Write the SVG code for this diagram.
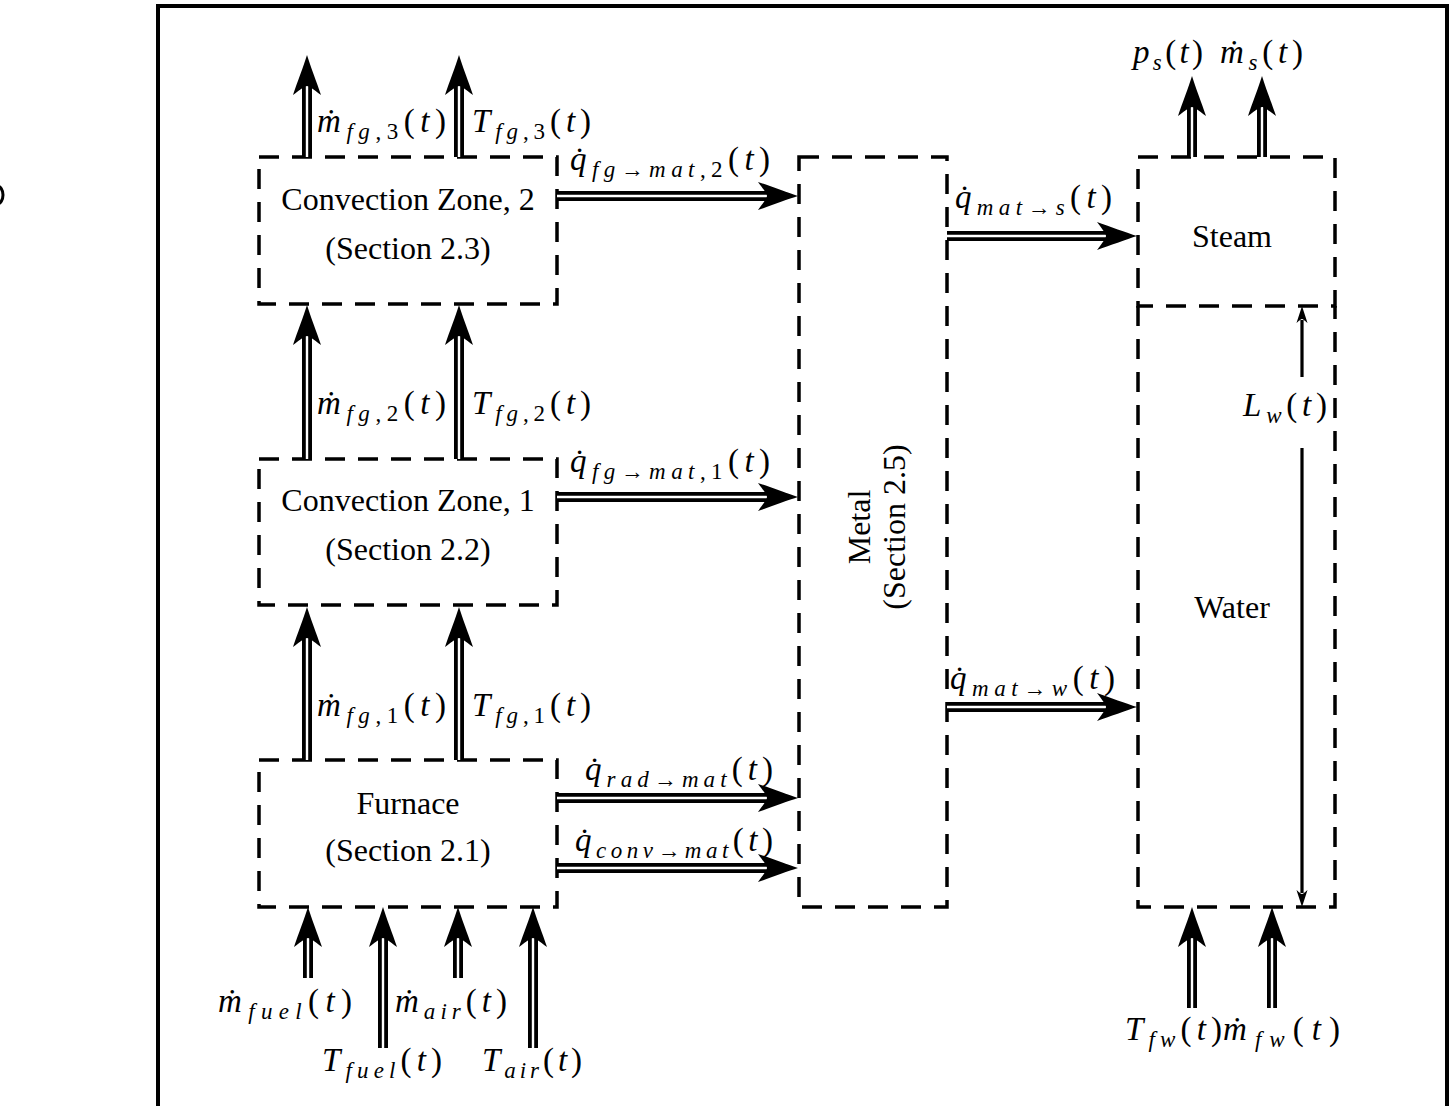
<svg xmlns="http://www.w3.org/2000/svg" xmlns:xlink="http://www.w3.org/1999/xlink" width="1451" height="1106" viewBox="0 0 1451 1106">
<style>
.box{fill:none;stroke:#000;stroke-width:3.5;stroke-dasharray:20 13}
.sh{stroke:#000;stroke-width:10;fill:none}
.sw{stroke:#fff;stroke-width:2.4;fill:none}
.thin{stroke:#000;stroke-width:3.2;fill:none}
.lbl{font-family:"Liberation Serif","Times New Roman",serif;font-size:32px;fill:#000}
.m{font-family:"Liberation Serif","Times New Roman",serif;font-size:33px;font-style:italic;fill:#000}
.s{font-size:23px}
.u{font-style:normal}
</style>
<defs>
<path id="ah" d="M0,0 C-10,-3 -28,-10 -40,-14 C-34,-6 -31,-2 -31,0 C-31,2 -34,6 -40,14 C-28,10 -10,3 0,0 Z" fill="#000"/>
<path id="th" d="M0,0 C-5,-1.5 -12,-4 -17,-5.5 C-14,-2 -13,-1 -13,0 C-13,1 -14,2 -17,5.5 C-12,4 -5,1.5 0,0 Z" fill="#000"/>
</defs>
<rect width="1451" height="1106" fill="#fff"/>
<path d="M158,1110 V6 H1447 V1110" fill="none" stroke="#000" stroke-width="4"/>
<ellipse cx="-3" cy="195" rx="6" ry="9" fill="none" stroke="#000" stroke-width="3"/>

<g id="cz2"><rect class="box" x="259" y="157" width="298" height="147"/>
<text class="lbl" x="408" y="210" text-anchor="middle">Convection Zone, 2</text>
<text class="lbl" x="408" y="259" text-anchor="middle">(Section 2.3)</text></g>
<g id="cz1"><rect class="box" x="259" y="459" width="298" height="146"/>
<text class="lbl" x="408" y="511" text-anchor="middle">Convection Zone, 1</text>
<text class="lbl" x="408" y="560" text-anchor="middle">(Section 2.2)</text></g>
<g id="furnace"><rect class="box" x="259" y="760" width="298" height="147"/>
<text class="lbl" x="408" y="814" text-anchor="middle">Furnace</text>
<text class="lbl" x="408" y="861" text-anchor="middle">(Section 2.1)</text></g>
<g id="metal"><rect class="box" x="799" y="157" width="148" height="750"/>
<text class="lbl" transform="translate(870,527) rotate(-90)" text-anchor="middle">Metal</text>
<text class="lbl" transform="translate(905,527) rotate(-90)" text-anchor="middle">(Section 2.5)</text></g>
<g id="steam"><rect class="box" x="1138" y="157" width="197" height="149"/>
<text class="lbl" x="1232" y="247" text-anchor="middle">Steam</text></g>
<g id="water"><path class="box" d="M1138,306 V907 H1335 V306"/>
<text class="lbl" x="1232" y="618" text-anchor="middle">Water</text></g>

<g id="connectors">
<g>
<path class="sh" d="M307,157 V85 M459,157 V85 M307,459 V335 M459,459 V335 M307,760 V637 M459,760 V637 M1192,157 V106 M1262,157 V106 M308,978 V937 M383,1048 V937 M458,978 V937 M533,1048 V937 M1192,1008 V937 M1272,1008 V937"/>
<path class="sw" d="M307,157 V85 M459,157 V85 M307,459 V335 M459,459 V335 M307,760 V637 M459,760 V637 M1192,157 V106 M1262,157 V106 M308,978 V937 M383,1048 V937 M458,978 V937 M533,1048 V937 M1192,1008 V937 M1272,1008 V937"/>
<use xlink:href="#ah" transform="translate(307,55) rotate(-90)"/>
<use xlink:href="#ah" transform="translate(459,55) rotate(-90)"/>
<use xlink:href="#ah" transform="translate(307,305) rotate(-90)"/>
<use xlink:href="#ah" transform="translate(459,305) rotate(-90)"/>
<use xlink:href="#ah" transform="translate(307,607) rotate(-90)"/>
<use xlink:href="#ah" transform="translate(459,607) rotate(-90)"/>
<use xlink:href="#ah" transform="translate(1192,76) rotate(-90)"/>
<use xlink:href="#ah" transform="translate(1262,76) rotate(-90)"/>
<use xlink:href="#ah" transform="translate(308,907) rotate(-90)"/>
<use xlink:href="#ah" transform="translate(383,907) rotate(-90)"/>
<use xlink:href="#ah" transform="translate(458,907) rotate(-90)"/>
<use xlink:href="#ah" transform="translate(533,907) rotate(-90)"/>
<use xlink:href="#ah" transform="translate(1192,907) rotate(-90)"/>
<use xlink:href="#ah" transform="translate(1272,907) rotate(-90)"/>
</g>
<g>
<path class="sh" d="M557,196 H768 M557,497 H768 M557,798 H768 M557,868 H768 M947,236 H1107 M947,707 H1107"/>
<path class="sw" d="M557,196 H768 M557,497 H768 M557,798 H768 M557,868 H768 M947,236 H1107 M947,707 H1107"/>
<use xlink:href="#ah" transform="translate(798,196)"/>
<use xlink:href="#ah" transform="translate(798,497)"/>
<use xlink:href="#ah" transform="translate(798,798)"/>
<use xlink:href="#ah" transform="translate(798,868)"/>
<use xlink:href="#ah" transform="translate(1137,236)"/>
<use xlink:href="#ah" transform="translate(1137,707)"/>
</g>
<g>
<path class="thin" d="M1302,377 V320 M1302,448 V893"/>
<use xlink:href="#th" transform="translate(1302,306) rotate(-90)"/>
<use xlink:href="#th" transform="translate(1302,907) rotate(90)"/>
</g>
</g>

<g id="labels">
<text class="m" x="317" y="132" textLength="129" lengthAdjust="spacing">ṁ<tspan class="s" dy="7">fg<tspan class="u">,3</tspan></tspan><tspan class="u" dy="-7">(</tspan>t<tspan class="u">)</tspan></text>
<text class="m" x="472" y="132" textLength="119" lengthAdjust="spacing">T<tspan class="s" dy="7">fg<tspan class="u">,3</tspan></tspan><tspan class="u" dy="-7">(</tspan>t<tspan class="u">)</tspan></text>
<text class="m" x="317" y="414" textLength="129" lengthAdjust="spacing">ṁ<tspan class="s" dy="7">fg<tspan class="u">,2</tspan></tspan><tspan class="u" dy="-7">(</tspan>t<tspan class="u">)</tspan></text>
<text class="m" x="472" y="414" textLength="119" lengthAdjust="spacing">T<tspan class="s" dy="7">fg<tspan class="u">,2</tspan></tspan><tspan class="u" dy="-7">(</tspan>t<tspan class="u">)</tspan></text>
<text class="m" x="317" y="716" textLength="129" lengthAdjust="spacing">ṁ<tspan class="s" dy="7">fg<tspan class="u">,1</tspan></tspan><tspan class="u" dy="-7">(</tspan>t<tspan class="u">)</tspan></text>
<text class="m" x="472" y="716" textLength="119" lengthAdjust="spacing">T<tspan class="s" dy="7">fg<tspan class="u">,1</tspan></tspan><tspan class="u" dy="-7">(</tspan>t<tspan class="u">)</tspan></text>

<text class="m" x="570" y="170" textLength="200" lengthAdjust="spacing">q&#x307;<tspan class="s" dy="7">fg<tspan class="u">→</tspan>mat<tspan class="u">,2</tspan></tspan><tspan class="u" dy="-7">(</tspan>t<tspan class="u">)</tspan></text>
<text class="m" x="570" y="472" textLength="200" lengthAdjust="spacing">q&#x307;<tspan class="s" dy="7">fg<tspan class="u">→</tspan>mat<tspan class="u">,1</tspan></tspan><tspan class="u" dy="-7">(</tspan>t<tspan class="u">)</tspan></text>
<text class="m" x="585" y="780" textLength="188" lengthAdjust="spacing">q&#x307;<tspan class="s" dy="7">rad<tspan class="u">→</tspan>mat</tspan><tspan class="u" dy="-7">(</tspan>t<tspan class="u">)</tspan></text>
<text class="m" x="575" y="851" textLength="198" lengthAdjust="spacing">q&#x307;<tspan class="s" dy="7">conv<tspan class="u">→</tspan>mat</tspan><tspan class="u" dy="-7">(</tspan>t<tspan class="u">)</tspan></text>
<text class="m" x="955" y="208" textLength="157" lengthAdjust="spacing">q&#x307;<tspan class="s" dy="7">mat<tspan class="u">→</tspan>s</tspan><tspan class="u" dy="-7">(</tspan>t<tspan class="u">)</tspan></text>
<text class="m" x="950" y="689" textLength="165" lengthAdjust="spacing">q&#x307;<tspan class="s" dy="7">mat<tspan class="u">→</tspan>w</tspan><tspan class="u" dy="-7">(</tspan>t<tspan class="u">)</tspan></text>

<text class="m" x="1133" y="63" textLength="70" lengthAdjust="spacing">p<tspan class="s" dy="7">s</tspan><tspan class="u" dy="-7">(</tspan>t<tspan class="u">)</tspan></text>
<text class="m" x="1220" y="63" textLength="83" lengthAdjust="spacing">ṁ<tspan class="s" dy="7">s</tspan><tspan class="u" dy="-7">(</tspan>t<tspan class="u">)</tspan></text>
<text class="m" x="1243" y="416" textLength="84" lengthAdjust="spacing">L<tspan class="s" dy="7">w</tspan><tspan class="u" dy="-7">(</tspan>t<tspan class="u">)</tspan></text>

<text class="m" x="218" y="1012" textLength="134" lengthAdjust="spacing">ṁ<tspan class="s" dy="7">fuel</tspan><tspan class="u" dy="-7">(</tspan>t<tspan class="u">)</tspan></text>
<text class="m" x="395" y="1012" textLength="112" lengthAdjust="spacing">ṁ<tspan class="s" dy="7">air</tspan><tspan class="u" dy="-7">(</tspan>t<tspan class="u">)</tspan></text>
<text class="m" x="322" y="1071" textLength="120" lengthAdjust="spacing">T<tspan class="s" dy="7">fuel</tspan><tspan class="u" dy="-7">(</tspan>t<tspan class="u">)</tspan></text>
<text class="m" x="482" y="1071" textLength="100" lengthAdjust="spacing">T<tspan class="s" dy="7">air</tspan><tspan class="u" dy="-7">(</tspan>t<tspan class="u">)</tspan></text>
<text class="m" x="1125" y="1040" textLength="97" lengthAdjust="spacing">T<tspan class="s" dy="7">fw</tspan><tspan class="u" dy="-7">(</tspan>t<tspan class="u">)</tspan></text>
<text class="m" x="1223" y="1040" textLength="117" lengthAdjust="spacing">ṁ<tspan class="s" dy="7">fw</tspan><tspan class="u" dy="-7">(</tspan>t<tspan class="u">)</tspan></text>
</g>
</svg>
